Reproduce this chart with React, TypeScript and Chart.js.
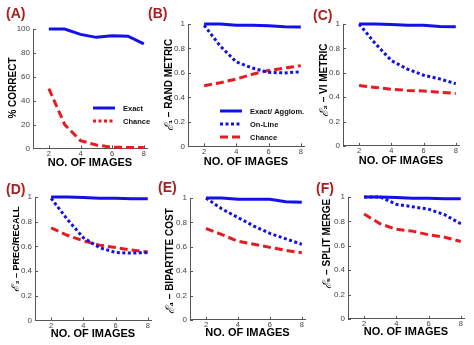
import React, { useEffect, useRef } from "react";
import { Chart, registerables } from "chart.js";

Chart.register(...registerables);

// ---------- data ----------
const IMAGES = [2, 3, 4, 5, 6, 7, 8];
const X_TICKS = [2, 4, 6, 8];
const PCT_TICKS = [0, 20, 40, 60, 80, 100];
const UNIT_TICKS = [0, 0.2, 0.4, 0.6, 0.8, 1];

const A_EXACT = [100, 100, 95.5, 93, 94.3, 94, 87.5];
const A_CHANCE = [50, 20, 6.5, 2.8, 1, 0.8, 0.7];

const B_EXACT = [1, 1, 0.99, 0.99, 0.985, 0.978, 0.975];
const B_ONLINE = [0.99, 0.82, 0.69, 0.64, 0.605, 0.6, 0.61];
const B_CHANCE = [0.495, 0.52, 0.55, 0.59, 0.62, 0.64, 0.66];

const C_EXACT = [1, 1, 0.995, 0.99, 0.99, 0.98, 0.978];
const C_ONLINE = [1, 0.84, 0.7, 0.63, 0.58, 0.55, 0.51];
const C_CHANCE = [0.495, 0.48, 0.465, 0.455, 0.45, 0.44, 0.43];

const D_EXACT = [1, 1, 0.995, 0.99, 0.99, 0.985, 0.985];
const D_ONLINE = [0.99, 0.82, 0.67, 0.59, 0.55, 0.545, 0.55];
const D_CHANCE = [0.75, 0.69, 0.645, 0.61, 0.59, 0.57, 0.555];

const E_EXACT = [1, 1, 0.99, 0.99, 0.99, 0.97, 0.965];
const E_ONLINE = [1, 0.91, 0.84, 0.77, 0.71, 0.665, 0.62];
const E_CHANCE = [0.75, 0.7, 0.645, 0.62, 0.595, 0.57, 0.55];

const F_EXACT = [1, 1, 0.995, 0.99, 0.99, 0.985, 0.985];
const F_ONLINE = [1, 1, 0.94, 0.92, 0.9, 0.855, 0.78];
const F_CHANCE = [0.86, 0.78, 0.735, 0.72, 0.69, 0.67, 0.635];

// ---------- styles ----------
const BLUE = "#1212e8";
const RED = "#e41d22";
const FONT = "'Liberation Sans', Arial, Helvetica, sans-serif";
const SCRIPT_FONT = "'DejaVu Serif', 'Liberation Serif', serif";
const STYLE: Record<string, { color: string; dash: number[] }> = {
  solid: { color: BLUE, dash: [] },
  dot: { color: BLUE, dash: [3, 2.5] },
  dash: { color: RED, dash: [8, 4] },
  dotRed: { color: RED, dash: [3, 2.5] },
};

type Series = { label: string; data: number[]; kind: string; legendKind?: string };
type PanelDef = {
  id: string;
  yScript?: string; // subscript digit of the script-E measure
  yTitle: string;
  yTitleSize: number;
  yMax: number;
  yTicks: number[];
  series: Series[];
  legend?: { dx: number; dy: number };
  // plot geometry (layout only)
  L: number; T: number; R: number; B: number;
  yTitleX: number; yTitleY: number; xTitleOff: number;
  labelX: number; labelY: number;
};

const PANELS: PanelDef[] = [
  {
    id: "A", yTitle: "% CORRECT", yTitleSize: 10, yMax: 100, yTicks: PCT_TICKS,
    series: [
      { label: "Exact", data: A_EXACT, kind: "solid" },
      { label: "Chance", data: A_CHANCE, kind: "dash", legendKind: "dotRed" },
    ],
    legend: { dx: 60, dy: 79 },
    L: 33, T: 29, R: 147, B: 148, yTitleX: 13, yTitleY: 88, xTitleOff: 15, labelX: 6, labelY: 6,
  },
  {
    id: "B", yScript: "₁", yTitle: " – RAND METRIC", yTitleSize: 10, yMax: 1, yTicks: UNIT_TICKS,
    series: [
      { label: "Exact/ Agglom.", data: B_EXACT, kind: "solid" },
      { label: "On-Line", data: B_ONLINE, kind: "dot" },
      { label: "Chance", data: B_CHANCE, kind: "dash" },
    ],
    legend: { dx: 32, dy: 87 },
    L: 188, T: 24, R: 304, B: 146, yTitleX: 169, yTitleY: 85, xTitleOff: 16, labelX: 148, labelY: 6,
  },
  {
    id: "C", yScript: "₂", yTitle: " – VI METRIC", yTitleSize: 10, yMax: 1, yTicks: UNIT_TICKS,
    series: [
      { label: "Exact", data: C_EXACT, kind: "solid" },
      { label: "On-Line", data: C_ONLINE, kind: "dot" },
      { label: "Chance", data: C_CHANCE, kind: "dash" },
    ],
    L: 343, T: 24, R: 459, B: 146, yTitleX: 324, yTitleY: 80, xTitleOff: 15.5, labelX: 313, labelY: 8,
  },
  {
    id: "D", yScript: "₃", yTitle: " – PREC/RECALL", yTitleSize: 9, yMax: 1, yTicks: UNIT_TICKS,
    series: [
      { label: "Exact", data: D_EXACT, kind: "solid" },
      { label: "On-Line", data: D_ONLINE, kind: "dot" },
      { label: "Chance", data: D_CHANCE, kind: "dash" },
    ],
    L: 35, T: 197, R: 151, B: 320, yTitleX: 16, yTitleY: 249, xTitleOff: 14, labelX: 6, labelY: 182,
  },
  {
    id: "E", yScript: "₄", yTitle: " – BIPARTITE COST", yTitleSize: 10, yMax: 1, yTicks: UNIT_TICKS,
    series: [
      { label: "Exact", data: E_EXACT, kind: "solid" },
      { label: "On-Line", data: E_ONLINE, kind: "dot" },
      { label: "Chance", data: E_CHANCE, kind: "dash" },
    ],
    L: 190, T: 198, R: 305, B: 320, yTitleX: 170, yTitleY: 261, xTitleOff: 13.5, labelX: 158, labelY: 180,
  },
  {
    id: "F", yScript: "₅", yTitle: " – SPLIT MERGE", yTitleSize: 10, yMax: 1, yTicks: UNIT_TICKS,
    series: [
      { label: "Exact", data: F_EXACT, kind: "solid" },
      { label: "On-Line", data: F_ONLINE, kind: "dot" },
      { label: "Chance", data: F_CHANCE, kind: "dash" },
    ],
    L: 348, T: 197, R: 464, B: 319, yTitleX: 327, yTitleY: 244, xTitleOff: 13.5, labelX: 316, labelY: 181,
  },
];

const X_MIN = 1;
const X_MAX = 8.2;

const decorPlugin = {
  id: "decor",
  afterDraw(chart: any, _args: any, opts: any) {
    const { ctx, chartArea: a, scales } = chart;
    const xs = scales.x, ys = scales.y;
    ctx.save();
    ctx.strokeStyle = "#555";
    ctx.lineWidth = 1;
    ctx.setLineDash([]);
    ctx.beginPath();
    for (const t of xs.ticks) {
      const px = Math.round(xs.getPixelForValue(t.value)) + 0.5;
      ctx.moveTo(px, a.bottom);
      ctx.lineTo(px, a.bottom - 3);
    }
    for (const t of ys.ticks) {
      const py = Math.round(ys.getPixelForValue(t.value)) + 0.5;
      ctx.moveTo(a.left, py);
      ctx.lineTo(a.left + 3, py);
    }
    ctx.stroke();

    // y-axis title (rotated), drawn as segments: script E, subscript, words
    if (opts && opts.yTitle) {
      const t = opts.yTitle;
      const segs: { text: string; font: string; dy: number }[] = [];
      if (t.sub) {
        segs.push({ text: "ℰ", font: `italic ${t.size + 2}px ${SCRIPT_FONT}`, dy: 0 });
        segs.push({ text: t.sub, font: `bold ${t.size}px ${FONT}`, dy: 0 });
      }
      segs.push({ text: t.text, font: `bold ${t.size}px ${FONT}`, dy: 0 });
      ctx.save();
      ctx.translate(a.left - t.dx, a.top + t.dy);
      ctx.rotate(-Math.PI / 2);
      ctx.fillStyle = "#000";
      ctx.textBaseline = "middle";
      ctx.textAlign = "left";
      let total = 0;
      const widths = segs.map((s) => {
        ctx.font = s.font;
        const w = ctx.measureText(s.text).width;
        total += w;
        return w;
      });
      let x = -total / 2;
      segs.forEach((s, i) => {
        ctx.font = s.font;
        ctx.fillText(s.text, x, s.dy + 0.5);
        x += widths[i];
      });
      ctx.restore();
    }

    if (opts && opts.pos && opts.items) {
      const x0 = a.left + opts.pos.dx;
      let y0 = a.top + opts.pos.dy;
      for (const it of opts.items) {
        const st = STYLE[it.kind];
        ctx.strokeStyle = st.color;
        ctx.lineWidth = 3;
        ctx.setLineDash(st.dash);
        ctx.beginPath();
        ctx.moveTo(x0, y0);
        ctx.lineTo(x0 + 22, y0);
        ctx.stroke();
        ctx.setLineDash([]);
        ctx.fillStyle = "#111";
        ctx.font = `bold 7.5px ${FONT}`;
        ctx.textBaseline = "middle";
        ctx.textAlign = "left";
        ctx.fillText(it.label, x0 + 30, y0 + 0.5);
        y0 += 13;
      }
    }
    ctx.restore();
  },
};

function Panel({ p }: { p: PanelDef }) {
  const ref = useRef<HTMLCanvasElement>(null);
  const X_TITLE_LH = 13.2; // 11px * 1.2
  const canvasLeft = p.yTitleX - 8;
  const padTop = 12;
  const padRight = 6;
  const canvasTop = p.T - padTop;
  const wy = p.L - canvasLeft;
  const hx = p.xTitleOff + X_TITLE_LH / 2;
  const width = Math.round(p.R + padRight - canvasLeft);
  const height = Math.round(p.B + hx - canvasTop);

  useEffect(() => {
    if (!ref.current) return;
    const chart = new Chart(ref.current, {
      type: "line",
      data: {
        datasets: p.series.map((s) => ({
          label: s.label,
          data: IMAGES.map((x, i) => ({ x, y: s.data[i] })),
          borderColor: STYLE[s.kind].color,
          borderDash: STYLE[s.kind].dash,
          borderWidth: 3,
          borderCapStyle: "butt",
          pointRadius: 0,
          tension: 0,
          fill: false,
          clip: false,
        })),
      },
      options: {
        animation: false,
        responsive: false,
        maintainAspectRatio: false,
        layout: { padding: { left: 0, top: padTop, right: padRight, bottom: 0 } },
        plugins: {
          legend: { display: false },
          tooltip: { enabled: false },
          decor: {
            yTitle: {
              sub: p.yScript,
              text: p.yTitle,
              size: p.yTitleSize,
              dx: p.L - p.yTitleX,
              dy: p.yTitleY - p.T,
            },
            ...(p.legend
              ? {
                  pos: p.legend,
                  items: p.series.map((s) => ({ label: s.label, kind: s.legendKind || s.kind })),
                }
              : {}),
          },
        } as any,
        scales: {
          x: {
            type: "linear",
            min: X_MIN,
            max: X_MAX,
            afterBuildTicks: (sc: any) => {
              sc.ticks = X_TICKS.map((v) => ({ value: v }));
            },
            afterFit: (sc: any) => {
              sc.height = hx;
            },
            grid: { display: true, drawOnChartArea: false, drawTicks: false },
            border: { display: true, color: "#555", width: 1 },
            ticks: {
              padding: 1,
              color: "#444",
              font: { family: FONT, size: 7.5 },
              callback: (v: any) => String(v),
              maxRotation: 0,
              autoSkip: false,
            },
            title: {
              display: true,
              text: "NO. OF IMAGES",
              color: "#000",
              padding: 0,
              font: { family: FONT, size: 11, weight: "bold", lineHeight: 1.2 },
            },
          },
          y: {
            type: "linear",
            min: 0,
            max: p.yMax,
            afterBuildTicks: (sc: any) => {
              sc.ticks = p.yTicks.map((v) => ({ value: v }));
            },
            afterFit: (sc: any) => {
              sc.width = wy;
            },
            grid: { display: true, drawOnChartArea: false, drawTicks: false },
            border: { display: true, color: "#555", width: 1 },
            ticks: {
              padding: 3,
              color: "#444",
              font: { family: FONT, size: 8 },
              callback: (v: any) => String(v),
              autoSkip: false,
            },
            title: { display: false },
          },
        },
      } as any,
      plugins: [decorPlugin as any],
    });
    return () => chart.destroy();
  }, []);

  return (
    <canvas
      ref={ref}
      width={width}
      height={height}
      style={{ position: "absolute", left: canvasLeft, top: canvasTop, width, height }}
    />
  );
}

export default function App() {
  return (
    <div
      style={{
        position: "fixed",
        left: 0,
        top: 0,
        width: 474,
        height: 345,
        background: "#fff",
        overflow: "hidden",
      }}
    >
      {PANELS.map((p) => (
        <Panel key={p.id} p={p} />
      ))}
      {PANELS.map((p) => (
        <div
          key={"lbl" + p.id}
          style={{
            position: "absolute",
            left: p.labelX,
            top: p.labelY,
            font: `bold 14px ${FONT}`,
            lineHeight: "14px",
            color: "#a8201f",
            whiteSpace: "nowrap",
          }}
        >
          ({p.id})
        </div>
      ))}
    </div>
  );
}
